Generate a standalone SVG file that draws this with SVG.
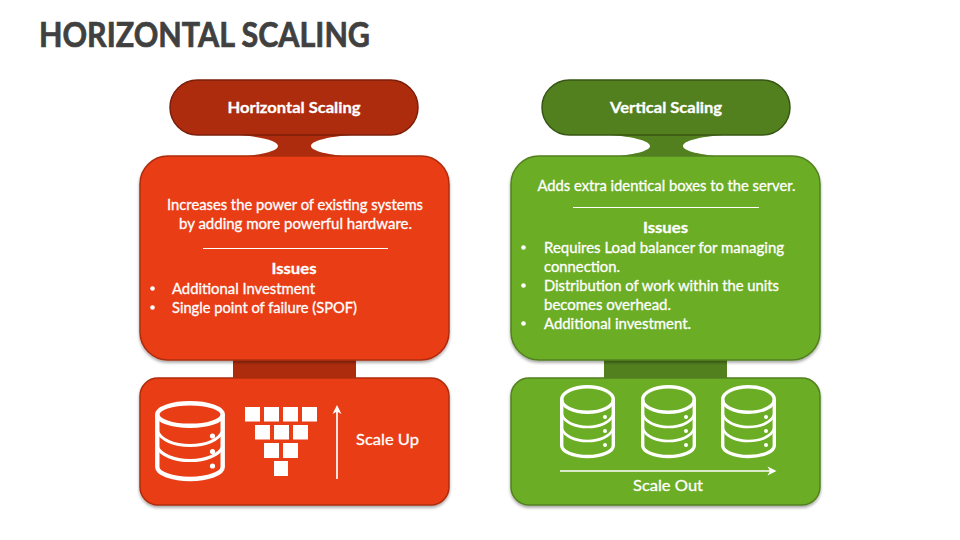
<svg xmlns="http://www.w3.org/2000/svg" width="960" height="540" viewBox="0 0 960 540">
<style>
text{font-family:"Lato","Carlito","Open Sans",sans-serif;fill:#fff;stroke:#fff;stroke-width:.3px;font-size:14.4px}
.title{font-size:34.5px;font-weight:700;fill:#404040;stroke:#404040;stroke-width:.7px}
.h{font-size:15.5px;font-weight:700}
.m{font-size:15.5px}
.c{text-anchor:middle}
.red{fill:#E93C14;stroke:#AE2C0E;stroke-width:1.5}
.rdark{fill:#AE2C0E}
.rpill{fill:#AE2C0E;stroke:#7A1F0A;stroke-width:1.5}
.green{fill:#6CAD27;stroke:#53801F;stroke-width:1.5}
.gdark{fill:#53801F}
.gpill{fill:#53801F;stroke:#375615;stroke-width:1.5}
.rule{stroke:#fff;stroke-width:1;fill:none}
.ico{stroke:#fff;fill:none}
.sq{fill:#fff}
</style>
<defs>
<filter id="sh" x="-5%" y="-5%" width="110%" height="112%"><feDropShadow dx="0" dy="2" stdDeviation="1.6" flood-color="#000" flood-opacity="0.35"/></filter>
<path id="neck" d="M225 134C262 136 278 141 278 146C278 151 262 155 235 157L355 157C328 155 311 151 311 146C311 141 327 136 365 134Z"/>
<g id="dbS">
<g class="ico" stroke-width="3.4">
<ellipse cx="27.500" cy="14" rx="25.800" ry="12.800"/>
<path d="M1.700 14V60C1.700 66 13 71 27.500 71S53.300 66 53.300 60V14"/>
</g>
<g class="ico" stroke-width="2.600">
<path d="M1.700 29C5 37 15 41.500 27.500 41.500S50 37 53.300 29"/>
<path d="M1.700 43C5 51 15 55.500 27.500 55.500S50 51 53.300 43"/>
</g>
<circle class="sq" cx="45" cy="31.500" r="2"/>
<circle class="sq" cx="45" cy="45.500" r="2"/>
<circle class="sq" cx="45" cy="59.500" r="2"/>
</g>
</defs>
<text class="title" x="39" y="47" textLength="331" lengthAdjust="spacingAndGlyphs">HORIZONTAL SCALING</text>

<g id="connectors">
<use href="#neck" class="rdark"/>
<rect class="rdark" x="233" y="359" width="123" height="20"/>
<use href="#neck" x="372" class="gdark"/>
<rect class="gdark" x="604" y="359" width="123" height="20"/>
</g>

<g id="node-horizontal-header">
<rect class="rpill" x="170" y="80" width="248" height="55" rx="27.5"/>
<text class="h c" x="294" y="113" textLength="133" lengthAdjust="spacingAndGlyphs">Horizontal Scaling</text>
</g>
<g id="node-horizontal-body">
<rect class="red" x="140" y="156" width="309" height="204" rx="28" filter="url(#sh)"/>
<text class="c" x="295" y="210" textLength="256" lengthAdjust="spacingAndGlyphs">Increases the power of existing systems</text>
<text class="c" x="295.500" y="229" textLength="233" lengthAdjust="spacingAndGlyphs">by adding more powerful hardware.</text>
<line class="rule" x1="203" y1="248.500" x2="388" y2="248.500"/>
<text class="h c" x="294" y="274" textLength="45" lengthAdjust="spacingAndGlyphs">Issues</text>
<circle class="sq" cx="152.500" cy="288.500" r="2.300"/>
<text x="172" y="294" textLength="143" lengthAdjust="spacingAndGlyphs">Additional Investment</text>
<circle class="sq" cx="152.500" cy="307.500" r="2.300"/>
<text x="172" y="313" textLength="185" lengthAdjust="spacingAndGlyphs">Single point of failure (SPOF)</text>
</g>
<g id="node-scale-up">
<rect class="red" x="140" y="378" width="309" height="127" rx="18" filter="url(#sh)"/>
<g class="ico" stroke-width="4.400">
<ellipse cx="190" cy="414.500" rx="32.700" ry="11.300"/>
<path d="M157.300 414.500V467C157.300 473.500 172 479 190 479S222.700 473.500 222.700 467V414.500"/>
</g>
<g class="ico" stroke-width="3">
<path d="M157.300 431C161 440 174 445.500 190 445.500S219 440 222.700 431"/>
<path d="M157.300 447C161 455 174 460.500 190 460.500S219 455 222.700 447"/>
</g>
<circle class="sq" cx="212.500" cy="436" r="2.600"/>
<circle class="sq" cx="212.500" cy="451.500" r="2.600"/>
<circle class="sq" cx="212.500" cy="466" r="2.600"/>
<g class="sq">
<rect x="245" y="407" width="15" height="14.500"/><rect x="264" y="407" width="15" height="14.500"/><rect x="283" y="407" width="15" height="14.500"/><rect x="302" y="407" width="15" height="14.500"/>
<rect x="255" y="425" width="15" height="14.500"/><rect x="274" y="425" width="15" height="14.500"/><rect x="293" y="425" width="15" height="14.500"/>
<rect x="264" y="443" width="15" height="15"/><rect x="283" y="443" width="15" height="15"/>
<rect x="274" y="461" width="14" height="15"/>
</g>
<path class="ico" stroke-width="1.700" d="M337 479V410"/>
<path class="sq" d="M337 405L341.500 414L337 411.500L332.500 414Z"/>
<text class="m" x="356" y="445" textLength="63" lengthAdjust="spacingAndGlyphs">Scale Up</text>
</g>

<g id="node-vertical-header">
<rect class="gpill" x="542" y="80" width="248" height="55" rx="27.5"/>
<text class="h c" x="666" y="113" textLength="112" lengthAdjust="spacingAndGlyphs">Vertical Scaling</text>
</g>
<g id="node-vertical-body">
<rect class="green" x="511" y="156" width="309" height="204" rx="28" filter="url(#sh)"/>
<text class="c" x="666.500" y="191" textLength="258" lengthAdjust="spacingAndGlyphs">Adds extra identical boxes to the server.</text>
<line class="rule" x1="573" y1="207.500" x2="759" y2="207.500"/>
<text class="h c" x="665.500" y="233" textLength="45" lengthAdjust="spacingAndGlyphs">Issues</text>
<circle class="sq" cx="523.500" cy="247.500" r="2.300"/>
<text x="544" y="253" textLength="240" lengthAdjust="spacingAndGlyphs">Requires Load balancer for managing</text>
<text x="544" y="272" textLength="76" lengthAdjust="spacingAndGlyphs">connection.</text>
<circle class="sq" cx="523.500" cy="285.500" r="2.300"/>
<text x="544" y="291" textLength="235" lengthAdjust="spacingAndGlyphs">Distribution of work within the units</text>
<text x="544" y="310" textLength="127" lengthAdjust="spacingAndGlyphs">becomes overhead.</text>
<circle class="sq" cx="523.500" cy="323.500" r="2.300"/>
<text x="544" y="329" textLength="147" lengthAdjust="spacingAndGlyphs">Additional investment.</text>
</g>
<g id="node-scale-out">
<rect class="green" x="511" y="378" width="309" height="127" rx="18" filter="url(#sh)"/>
<use href="#dbS" x="560" y="385.500"/>
<use href="#dbS" x="641" y="385.500"/>
<use href="#dbS" x="721" y="385.500"/>
<path class="ico" stroke-width="1.700" d="M560 471H771"/>
<path class="sq" d="M776.500 471L767.500 475.500L770 471L767.500 466.500Z"/>
<text class="m c" x="668" y="491" textLength="70" lengthAdjust="spacingAndGlyphs">Scale Out</text>
</g>
</svg>
